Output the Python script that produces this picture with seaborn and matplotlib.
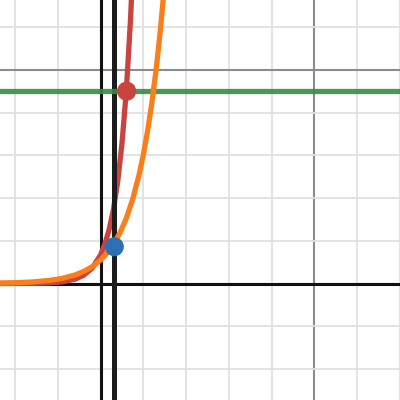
import numpy as np
import pandas as pd
import matplotlib
matplotlib.use('Agg')
import matplotlib.pyplot as plt
import matplotlib.ticker as ticker
import seaborn as sns

# values (grid units: one minor square = 1)
X_RANGE = [-2.353, 7.004]
Y_RANGE = [-2.725, 6.632]

red_x = [-2.4, -1.6, -1.2, -0.9, -0.6, -0.4, -0.2, 0.0, 0.1, 0.2, 0.3, 0.4, 0.5, 0.6, 0.7, 0.8]
red_y = [0.0003, 0.004, 0.015, 0.039, 0.10, 0.19, 0.355, 0.67, 0.92, 1.26, 1.73, 2.38, 3.27, 4.48, 6.17, 8.45]

orange_x = [-2.5, -2.0, -1.6, -1.2, -0.9, -0.6, -0.4, -0.2, 0.0, 0.15, 0.3, 0.45, 0.6, 0.75, 0.9,
            1.0, 1.1, 1.2, 1.3, 1.4, 1.5]
orange_y = [0.008, 0.018, 0.036, 0.072, 0.12, 0.198, 0.28, 0.39, 0.55, 0.71, 0.916, 1.18, 1.52, 1.97, 2.54,
            3.01, 3.57, 4.23, 5.01, 5.94, 7.04]

vline_x = 0.32
hline_y = 4.5
red_pt = (0.61, 4.5)
blue_pt = (0.32, 0.86)

RED, ORANGE, GREEN, BLUE = '#c74440', '#fa7e19', '#388c46', '#2d70b3'

sns.set_style('white')
fig = plt.figure(figsize=(4, 4), dpi=100)
ax = fig.add_axes([0, 0, 1, 1])

# grid
ax.xaxis.set_major_locator(ticker.MultipleLocator(5))
ax.yaxis.set_major_locator(ticker.MultipleLocator(5))
ax.xaxis.set_minor_locator(ticker.MultipleLocator(1))
ax.yaxis.set_minor_locator(ticker.MultipleLocator(1))
ax.grid(which='minor', color='#e0e0e0', lw=1.3, zorder=0)
ax.grid(which='major', color='#8c8c8c', lw=1.5, zorder=0)
ax.set_axisbelow(True)
ax.tick_params(which='both', length=0, labelbottom=False, labelleft=False)
for s in ax.spines.values():
    s.set_visible(False)

# axes
ax.axhline(0, color='#111111', lw=2.2, zorder=1)
ax.axvline(0, color='#111111', lw=2.2, zorder=1)

red_df = pd.DataFrame({'x': red_x, 'y': red_y})
orange_df = pd.DataFrame({'x': orange_x, 'y': orange_y})

sns.lineplot(data=red_df, x='x', y='y', color=RED, lw=3.8, ax=ax, zorder=2, sort=False)
ax.axvline(vline_x, color='#1c1c1c', lw=3.6, zorder=3)
ax.axhline(hline_y, color=GREEN, lw=3.8, alpha=0.9, zorder=3)
sns.lineplot(data=orange_df, x='x', y='y', color=ORANGE, lw=3.8, ax=ax, zorder=4, sort=False)

pts = pd.DataFrame({'x': [red_pt[0], blue_pt[0]], 'y': [red_pt[1], blue_pt[1]], 'c': ['r', 'b']})
sns.scatterplot(data=pts, x='x', y='y', hue='c', palette={'r': RED, 'b': BLUE},
                s=190, linewidth=0, legend=False, ax=ax, zorder=5)

ax.set_xlim(X_RANGE)
ax.set_ylim(Y_RANGE)
ax.set_xlabel('')
ax.set_ylabel('')

fig.savefig('out.png', dpi=100)
